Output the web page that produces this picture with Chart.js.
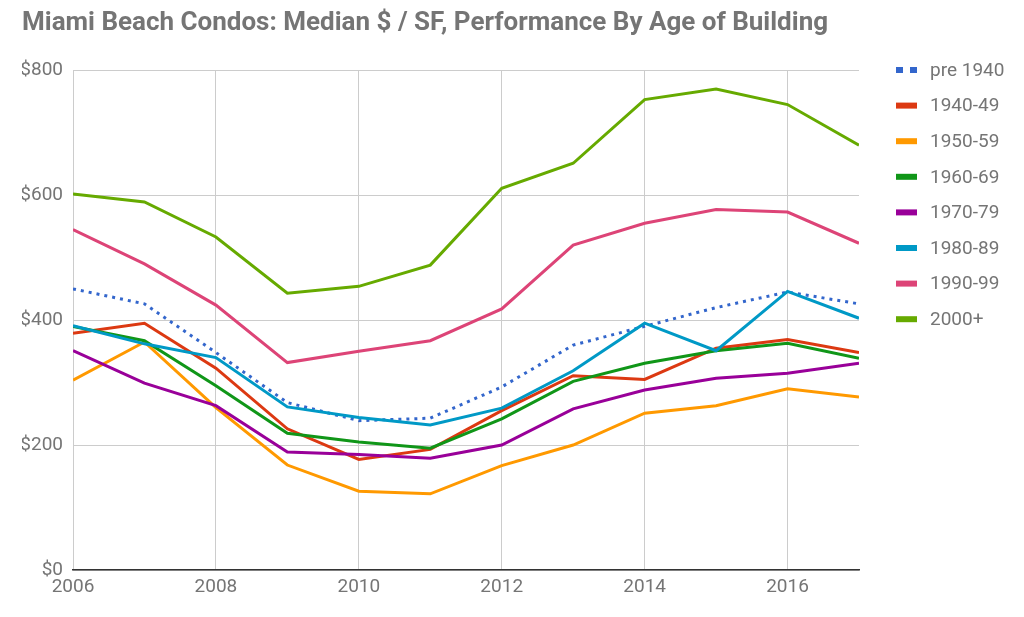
<!DOCTYPE html>
<html>
<head>
<meta charset="utf-8">
<script src="https://cdn.jsdelivr.net/npm/chart.js@4.4.1/dist/chart.umd.min.js"></script>
<style>
    html, body { margin: 0; padding: 0; background: #fff; }
    #wrap { width: 1024px; height: 617px; }
</style>
</head>
<body>
<div id="wrap"><canvas id="condoChart"></canvas></div>
<script>
const years = [2006, 2007, 2008, 2009, 2010, 2011, 2012, 2013, 2014, 2015, 2016, 2017];
const yTicks = [0, 200, 400, 600, 800];

const seriesNames = ['pre 1940', '1940-49', '1950-59', '1960-69', '1970-79', '1980-89', '1990-99', '2000+'];
const seriesColors = ['#3366cc', '#dc3912', '#ff9900', '#109618', '#990099', '#0099c6', '#dd4477', '#66aa00'];

const pre1940 = [450, 426, 348, 268, 239, 243, 293, 360, 390, 420, 445, 426];
const s1940 = [379, 395, 323, 226, 177, 193, 255, 311, 305, 355, 369, 348];
const s1950 = [304, 365, 260, 168, 126, 122, 167, 200, 251, 263, 290, 277];
const s1960 = [390, 367, 295, 219, 205, 195, 242, 302, 331, 351, 363, 339];
const s1970 = [351, 299, 263, 189, 185, 179, 200, 258, 288, 307, 315, 331];
const s1980 = [391, 362, 340, 261, 244, 232, 259, 319, 395, 351, 446, 403];
const s1990 = [545, 490, 424, 332, 350, 367, 418, 520, 555, 577, 573, 523];
const s2000 = [602, 589, 533, 443, 454, 488, 611, 651, 753, 770, 745, 680];

const allSeries = [pre1940, s1940, s1950, s1960, s1970, s1980, s1990, s2000];

const grey = '#757575';

// legend drawn on the right like the original
const sideLegend = {
    id: 'sideLegend',
    afterDraw(chart) {
        const ctx = chart.ctx;
        ctx.save();
        ctx.font = '19px Roboto';
        ctx.textBaseline = 'middle';
        ctx.fillStyle = grey;
        seriesNames.forEach((name, i) => {
            const y = 70 + i * 35.6;
            ctx.fillStyle = seriesColors[i];
            if (i === 0) {
                ctx.fillRect(896, y - 3, 7, 6);
                ctx.fillRect(910, y - 3, 7, 6);
            } else {
                ctx.fillRect(896, y - 3, 21, 6);
            }
            ctx.fillStyle = grey;
            ctx.fillText(name, 930, y + 1);
        });
        ctx.restore();
    }
};

const datasets = allSeries.map((vals, i) => ({
    label: seriesNames[i],
    data: years.map((yr, j) => ({ x: yr, y: vals[j] })),
    borderColor: seriesColors[i],
    backgroundColor: seriesColors[i],
    borderWidth: 3,
    borderDash: i === 0 ? [3, 5] : [],
    borderCapStyle: 'butt',
    pointRadius: 0,
    tension: 0,
    order: -i
}));

var ctx = document.getElementById('condoChart').getContext('2d');
var condoChart = new Chart(ctx, { // eslint-disable-line
    type: 'line',
    data: { datasets: datasets },
    plugins: [sideLegend],
    options: {
        responsive: true,
        maintainAspectRatio: false,
        animation: false,
        layout: {
            padding: { left: 22, right: 165, top: 0, bottom: 0 }
        },
        plugins: {
            legend: { display: false },
            tooltip: { enabled: false },
            title: {
                display: true,
                align: 'start',
                text: 'Miami Beach Condos: Median $ / SF, Performance By Age of Building',
                color: grey,
                font: { family: 'Roboto', size: 26, weight: 'bold', lineHeight: 1.2 },
                padding: { top: 8, bottom: 31 }
            }
        },
        scales: {
            x: {
                type: 'linear',
                min: 2006,
                max: 2017,
                afterBuildTicks: (scale) => {
                    scale.ticks = scale.ticks.filter(t => t.value % 2 === 0);
                },
                afterFit: (scale) => { scale.height = 47; },
                ticks: {
                    stepSize: 2,
                    color: grey,
                    padding: 6,
                    maxRotation: 0,
                    font: { family: 'Roboto', size: 19 },
                    callback: (v) => String(v)
                },
                grid: { color: '#cccccc', lineWidth: 1, drawTicks: false },
                border: { display: true, color: '#333333', width: 1.5 }
            },
            y: {
                min: 0,
                max: 800,
                afterBuildTicks: (scale) => {
                    scale.ticks = yTicks.map(v => ({ value: v }));
                },
                afterFit: (scale) => { scale.width = 51; },
                ticks: {
                    color: grey,
                    padding: 10,
                    font: { family: 'Roboto', size: 19 },
                    callback: (v) => '$' + v
                },
                grid: { color: '#cccccc', lineWidth: 1, drawTicks: false },
                border: { display: false }
            }
        }
    }
});
</script>
</body>
</html>
